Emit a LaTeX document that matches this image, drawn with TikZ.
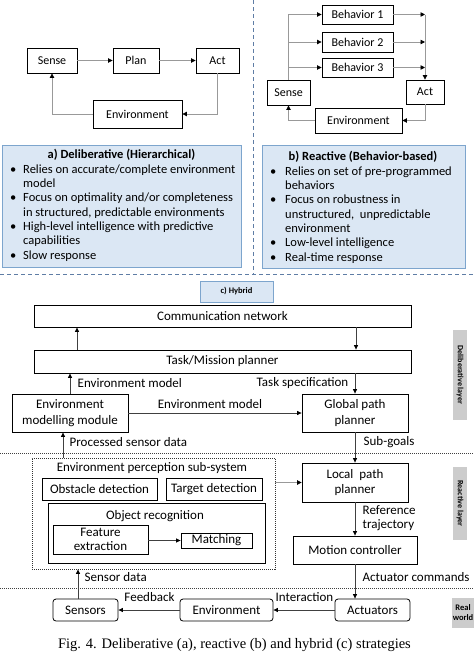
\documentclass[tikz,border=0pt]{standalone}
\usepackage{fontspec}
\setmainfont{Carlito}
\newfontfamily\capfont{Liberation Serif}
\usepackage{tikz}
\usetikzlibrary{arrows.meta}

\definecolor{panelfill}{RGB}{219,231,244}
\definecolor{panelline}{RGB}{125,165,205}
\definecolor{sepblue}{RGB}{95,125,165}

\begin{document}
\begin{tikzpicture}[x=1pt,y=-1pt,
    blk/.style={draw=black,line width=0.9pt,fill=white,inner sep=0pt,font=\fontsize{12}{13}\selectfont},
    hblk/.style={draw=black,line width=0.8pt,fill=white,inner sep=0pt,align=center,font=\fontsize{13}{15.5}\selectfont},
    rblk/.style={hblk,rounded corners=3pt},
    flow/.style={draw=black!40,line width=0.8pt,-{Triangle[length=4.5pt,width=4.5pt,color=black]}},
    hflow/.style={draw=black!75,line width=0.7pt,-{Triangle[length=4.5pt,width=4pt,color=black]}},
    panel/.style={draw=panelline,fill=panelfill,line width=0.9pt,inner sep=0pt},
    layerbox/.style={fill=black!20,inner sep=0pt,align=center,font=\fontsize{8}{9}\selectfont\bfseries},
    lbl/.style={inner sep=0.5pt,font=\fontsize{13}{14}\selectfont},
    sepdash/.style={draw=sepblue,line width=0.9pt,dash pattern=on 4pt off 3pt},
    sepdot/.style={draw=black!75,line width=0.9pt,dash pattern=on 1pt off 1pt}]
		\useasboundingbox (0,0) rectangle (474,654);

		% Panel separators
		\draw[sepdash] (0,274) -- (474,274);
		\draw[sepdash] (253,0) -- (253,274);

		% a) Deliberative loop
		\node[blk,minimum width=50,minimum height=25] (sa) at (52,60.5) {Sense};
		\node[blk,minimum width=46,minimum height=25] (plan) at (136,60.5) {Plan};
		\node[blk,minimum width=43,minimum height=25] (aa) at (217.5,60.5) {Act};
		\node[blk,minimum width=89,minimum height=28] (ea) at (137.5,114) {Environment};
		\draw[flow] (sa) -- (plan);
		\draw[flow] (plan) -- (aa);
		\draw[flow] (aa.south) |- (ea.east);
		\draw[flow] (ea.west) -| (sa.south);

		% b) Reactive loop
		\node[blk,minimum width=71,minimum height=19] (b1) at (357.5,14.5) {Behavior 1};
		\node[blk,minimum width=71,minimum height=20] (b2) at (357.5,42) {Behavior 2};
		\node[blk,minimum width=71,minimum height=19] (b3) at (357.5,67.5) {Behavior 3};
		\node[blk,minimum width=43,minimum height=25] (sb) at (288.5,92.5) {Sense};
		\node[blk,minimum width=38,minimum height=24] (ab) at (425,92) {Act};
		\node[blk,minimum width=87,minimum height=25] (eb) at (358.5,120.5) {Environment};
		\draw[flow] (sb.north) |- (b1.west);
		\draw[flow] (sb.north |- b2.west) -- (b2.west);
		\draw[flow] (sb.north |- b3.west) -- (b3.west);
		\draw[flow] (b1.east) -- (b1.east -| ab.north);
		\draw[flow] (b2.east) -- (b2.east -| ab.north);
		\draw[flow] (b3.east) -- (b3.east -| ab.north);
		\draw[flow] (b1.east -| ab.north) -- (ab.north);
		\draw[flow] (ab.south) |- (eb.east);
		\draw[flow] (eb.west) -| (sb.south);

		% Summary panels
		\node[panel,minimum width=239,minimum height=122,anchor=north west] (pa) at (2,145) {};
		\node[font=\fontsize{12.5}{14}\selectfont\bfseries] (ta) at (121.5,155) {a) Deliberative (Hierarchical)};
		\node[anchor=north west,inner sep=0pt,font=\fontsize{12.5}{14.3}\selectfont] (la) at (10,163)
			{\begin{tabular}{@{}p{13pt}@{}l@{}}
			\textbullet & Relies on accurate/complete environment\\
			 & model\\
			\textbullet & Focus on optimality and/or completeness\\
			 & in structured, predictable environments\\
			\textbullet & High-level intelligence with predictive\\
			 & capabilities\\
			\textbullet & Slow response
			\end{tabular}};
		\node[panel,minimum width=203,minimum height=123,anchor=north west] (pb) at (262,145) {};
		\node[font=\fontsize{12.5}{14}\selectfont\bfseries] (tb) at (363,157) {b) Reactive (Behavior-based)};
		\node[anchor=north west,inner sep=0pt,font=\fontsize{12.5}{14.3}\selectfont] (lb) at (270,165)
			{\begin{tabular}{@{}p{15pt}@{}l@{}}
			\textbullet & Relies on set of pre-programmed\\
			 & behaviors\\
			\textbullet & Focus on robustness in\\
			 & unstructured,\ \ unpredictable\\
			 & environment\\
			\textbullet & Low-level intelligence\\
			\textbullet & Real-time response
			\end{tabular}};

		% c) Hybrid
		\node[panel,minimum width=73,minimum height=21,font=\fontsize{8.5}{9}\selectfont\bfseries] (hyb) at (236.5,291.5) {c) Hybrid};
		\node[hblk,minimum width=377,minimum height=22] (comm) at (222.5,316) {Communication network};
		\node[hblk,minimum width=377,minimum height=23] (task) at (222.5,361.5) {Task/Mission planner};
		\node[hblk,minimum width=116,minimum height=38] (envmod) at (70,413) {Environment\\modelling module};
		\node[hblk,minimum width=106,minimum height=38] (glob) at (355,413) {Global path\\planner};
		\coordinate (upc) at (77,350);
		\coordinate (dnc) at (356,327);
		\draw[hflow] (upc) -- (upc |- comm.south);
		\draw[hflow] (dnc) -- (dnc |- task.north);
		\draw[hflow] (envmod.north) -- (envmod.north |- task.south);
		\draw[hflow] (glob.north |- task.south) -- (glob.north);
		\draw[hflow] (envmod.east) -- (envmod.east -| glob.west);
		\node[lbl,anchor=west] (l1) at (77,383) {Environment model};
		\node[lbl,anchor=east] (l2) at (349,383) {Task specification};
		\node[lbl] (l3) at (210,404) {Environment model};

		% Layer boundary
		\draw[sepdot] (0,453) -- (474,453);

		% Perception sub-system
		\node[draw=black!80,line width=0.8pt,dash pattern=on 1pt off 1pt,minimum width=243,minimum height=111] (perc) at (153.5,513.5) {};
		\node[lbl] (lp) at (152,468) {Environment perception sub-system};
		\node[hblk,minimum width=115,minimum height=22] (obst) at (99.5,489) {Obstacle detection};
		\node[hblk,minimum width=96,minimum height=22] (targ) at (214,489) {Target detection};
		\node[hblk,minimum width=217,minimum height=60] (objrec) at (156.5,533) {};
		\node[lbl] (lo) at (155,516) {Object recognition};
		\node[hblk,minimum width=95,minimum height=29,font=\fontsize{13}{14.5}\selectfont] (feat) at (100.5,539.5) {Feature\\extraction};
		\node[hblk,minimum width=71,minimum height=15] (match) at (216.5,540.5) {Matching};
		\draw[hflow] (feat.east |- match.west) -- (match.west);

		% Reactive chain
		\node[hblk,minimum width=106,minimum height=39] (local) at (355,482.5) {Local\ \ path\\planner};
		\node[hblk,minimum width=124,minimum height=28] (motion) at (355,550) {Motion controller};
		\coordinate (psd) at (63,458);
		\draw[hflow] (psd) -- (psd |- envmod.south);
		\node[lbl,anchor=west] (l4) at (69,442) {Processed sensor data};
		\draw[hflow] (glob) -- (local);
		\node[lbl,anchor=west] (l5) at (363,442) {Sub-goals};
		\draw[draw=black!40,line width=0.8pt,-{Triangle[length=4.5pt,width=4.5pt,color=black]}] (local.west -| perc.east) -- (local.west);
		\draw[hflow] (local) -- (motion);
		\node[lbl,anchor=west,align=left,font=\fontsize{13}{14}\selectfont] (l6) at (362,518) {Reference\\trajectory};

		% Real world
		\draw[sepdot] (0,588) -- (474,588);
		\node[rblk,minimum width=65,minimum height=22] (sens) at (85.5,610) {Sensors};
		\node[rblk,minimum width=93,minimum height=22] (envh) at (226.5,610) {Environment};
		\node[rblk,minimum width=75,minimum height=22] (actu) at (372.5,610) {Actuators};
		\draw[hflow] (motion.south) -- (motion.south |- actu.north);
		\node[lbl,anchor=west] (l7) at (362,577) {Actuator commands};
		\coordinate (snd) at (78,599);
		\draw[hflow] (snd) -- (snd |- perc.south);
		\node[lbl,anchor=west] (l8) at (84,577) {Sensor data};
		\draw[hflow] (actu) -- (envh);
		\draw[hflow] (envh) -- (sens);
		\node[lbl] (l9) at (304.5,597) {Interaction};
		\node[lbl] (l10) at (149.5,597) {Feedback};

		% Layer tags
		\node[layerbox,rotate=-90,minimum width=90,minimum height=14] (tdel) at (460,375) {Deliberative layer};
		\node[layerbox,rotate=-90,minimum width=73,minimum height=14] (trea) at (460,503.5) {Reactive layer};
		\node[layerbox,minimum width=22,minimum height=30,font=\fontsize{8.5}{10}\selectfont\bfseries] (treal) at (463,613) {Real\\world};

		% Caption
		\node[font=\capfont\fontsize{14.5}{16}\selectfont] (cap) at (234.5,645) {Fig. 4. Deliberative (a), reactive (b) and hybrid (c) strategies};
	\end{tikzpicture}
\end{document}
